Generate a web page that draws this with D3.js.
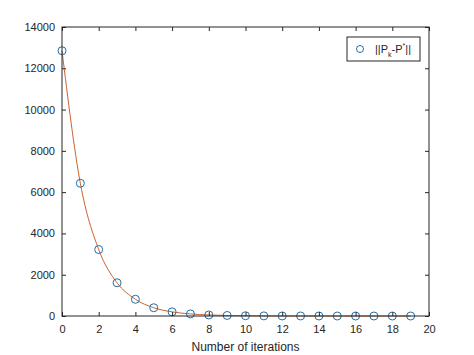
<!DOCTYPE html>
<html>
<head>
<meta charset="utf-8">
<script src="https://cdn.jsdelivr.net/npm/d3@7"></script>
<style>
  body { margin: 0; background: #fff; }
  text { font-family: "Liberation Sans", Arial, sans-serif; }
</style>
</head>
<body>
<div id="chart"></div>
<script>
// iterations and error values
var iterations = [0, 1, 2, 3, 4, 5, 6, 7, 8, 9, 10, 11, 12, 13, 14, 15, 16, 17, 18, 19];
var errorValues = [12850, 6430, 3220, 1610, 810, 400, 200, 100, 50, 25, 13, 6, 3, 2, 1, 0, 0, 0, 0, 0];
var xTicks = [0, 2, 4, 6, 8, 10, 12, 14, 16, 18, 20];
var yTicks = [0, 2000, 4000, 6000, 8000, 10000, 12000, 14000];

var data = iterations.map(function (d, i) { return { x: d, y: errorValues[i] }; });

// set the dimensions and margins of the graph
var margin = { top: 27, right: 45, bottom: 39, left: 62 },
  width = 474 - margin.left - margin.right,
  height = 355 - margin.top - margin.bottom;

var svg = d3.select("#chart")
  .append("svg")
  .attr("width", 474)
  .attr("height", 355)
  .append("g")
  .attr("transform", "translate(" + margin.left + "," + margin.top + ")");

var x = d3.scaleLinear().domain([0, 20]).range([0, width]);
var y = d3.scaleLinear().domain([0, 14000]).range([height, 0]);

var axisColor = "#262626";

// line first, markers on top
var line = d3.line()
  .x(function (d) { return x(d.x); })
  .y(function (d) { return y(d.y); })
  .curve(d3.curveMonotoneX);

svg.append("path")
  .datum(data)
  .attr("fill", "none")
  .attr("stroke", "#C8642E")
  .attr("stroke-width", 1)
  .attr("d", line);

svg.selectAll("circle")
  .data(data)
  .enter()
  .append("circle")
  .attr("cx", function (d) { return x(d.x); })
  .attr("cy", function (d) { return y(d.y); })
  .attr("r", 4)
  .attr("fill", "none")
  .attr("stroke", "#1F6FA8")
  .attr("stroke-width", 1);

// axes, ticks pointing inward like matlab
function styleAxis(g) {
  g.select(".domain").remove();
  g.selectAll(".tick line").attr("stroke", axisColor);
  g.selectAll(".tick text")
    .attr("fill", axisColor)
    .style("font-size", "11px");
}

svg.append("g")
  .attr("transform", "translate(0," + height + ")")
  .call(d3.axisBottom(x).tickValues(xTicks).tickSize(-4).tickPadding(9).tickFormat(d3.format("d")))
  .call(styleAxis);

svg.append("g")
  .call(d3.axisLeft(y).tickValues(yTicks).tickSize(-4).tickPadding(7).tickFormat(d3.format("d")))
  .call(styleAxis);

svg.append("g")
  .call(d3.axisTop(x).tickValues(xTicks).tickSize(-4).tickFormat(""))
  .call(styleAxis);

svg.append("g")
  .attr("transform", "translate(" + width + ",0)")
  .call(d3.axisRight(y).tickValues(yTicks).tickSize(-4).tickFormat(""))
  .call(styleAxis);

// box
svg.append("rect")
  .attr("x", 0).attr("y", 0)
  .attr("width", width).attr("height", height)
  .attr("fill", "none")
  .attr("stroke", axisColor)
  .attr("stroke-width", 1);

// x label
svg.append("text")
  .attr("x", width / 2)
  .attr("y", height + 35)
  .attr("text-anchor", "middle")
  .attr("fill", axisColor)
  .style("font-size", "12px")
  .text("Number of iterations");

// legend
var legend = svg.append("g")
  .attr("transform", "translate(" + (347 - margin.left) + "," + (37 - margin.top) + ")");

legend.append("rect")
  .attr("width", 73).attr("height", 24)
  .attr("fill", "#fff")
  .attr("stroke", axisColor)
  .attr("stroke-width", 1);

legend.append("circle")
  .attr("cx", 13).attr("cy", 12).attr("r", 3.5)
  .attr("fill", "none")
  .attr("stroke", "#1F6FA8");

var lt = legend.append("text")
  .attr("x", 28).attr("y", 16)
  .attr("fill", axisColor)
  .style("font-size", "11px");
lt.append("tspan").text("||P");
lt.append("tspan").attr("dy", 4).style("font-size", "7px").text("k");
lt.append("tspan").attr("dy", -4).text("-P");
lt.append("tspan").attr("dy", -5).style("font-size", "7px").text("*");
lt.append("tspan").attr("dy", 5).text("||");
</script>
</body>
</html>
